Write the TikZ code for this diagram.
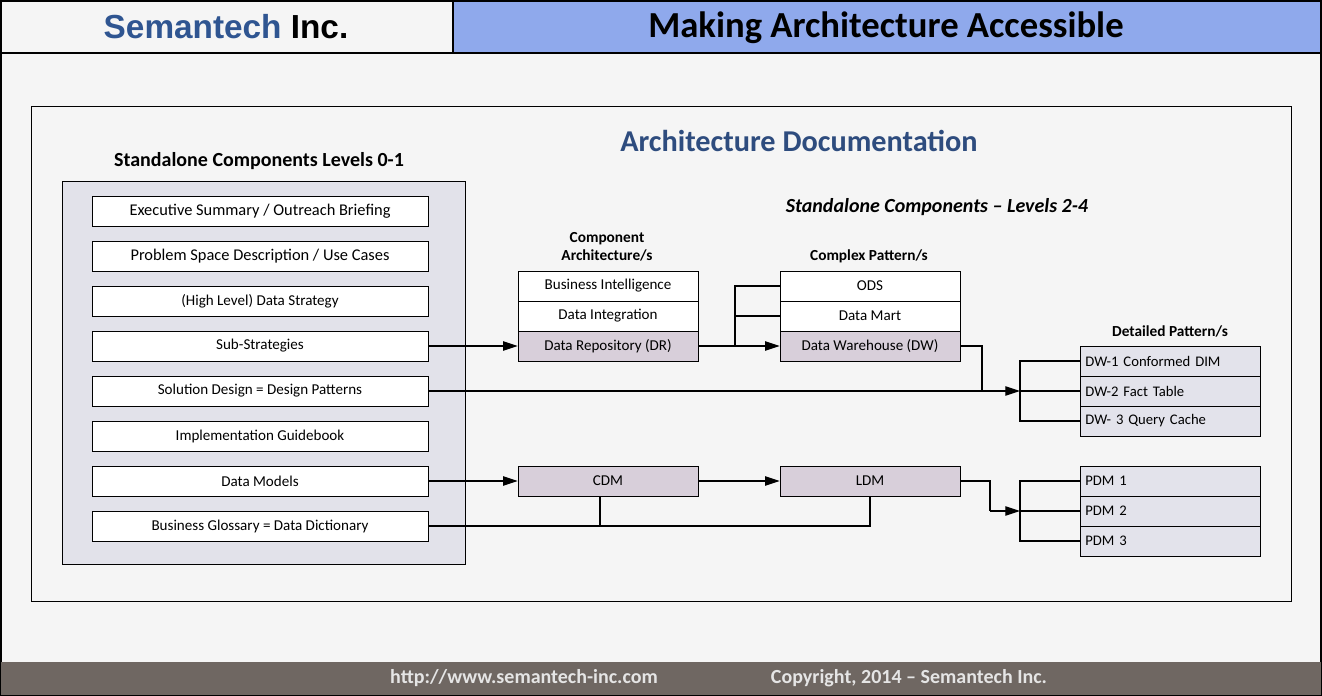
\documentclass[tikz,border=0pt]{standalone}
\usepackage{fontspec}
\setmainfont{Carlito}
\newfontfamily\arialf{Liberation Sans}
\usetikzlibrary{arrows.meta}
\definecolor{bgc}{HTML}{F5F5F5}
\definecolor{hdrblue}{HTML}{8FA9EC}
\definecolor{navy}{HTML}{2F5591}
\definecolor{ttl}{HTML}{2E4C7E}
\definecolor{foot}{HTML}{6F6762}
\definecolor{panel}{HTML}{E2E2EA}
\definecolor{shade}{HTML}{D8CFDA}
\definecolor{dpat}{HTML}{E3E3EB}
\tikzset{
 lbox/.style={draw,fill=white,minimum width=252pt,minimum height=22.5pt,inner sep=0pt,font=\fontsize{11.3}{13}\selectfont},
 sbox/.style={draw,fill=white,minimum width=135pt,minimum height=22.5pt,inner sep=0pt,font=\fontsize{11.3}{13}\selectfont},
 dbox/.style={draw,fill=dpat,minimum width=135pt,minimum height=22.5pt,inner sep=0pt,font=\fontsize{11}{13}\selectfont,text width=127pt,align=left},
 hd/.style={font=\bfseries\fontsize{11.5}{13.5}\selectfont,align=center},
 conn/.style={line width=0.8pt},
 arr/.style={line width=0.8pt,-{Triangle[length=11pt,width=7pt]}}
}
\begin{document}
\begin{tikzpicture}[x=0.75pt,y=-0.75pt]
\useasboundingbox (0,0) rectangle (1322,696);
\fill[bgc] (0,0) rectangle (1322,696);
\fill[hdrblue] (453,1) rectangle (1321,53);
\draw[line width=0.8pt] (1,1) rectangle (1321,695);
\draw[line width=0.8pt] (1,53) -- (1321,53) (453,1) -- (453,53);
\node[font=\arialf\bfseries\fontsize{25}{28}\selectfont] (brand) at (226,27) {\textcolor{navy}{Semantech} Inc.};
\node[font=\bfseries\fontsize{27.5}{30}\selectfont] (motto) at (886,28) {Making Architecture Accessible};
\fill[foot] (1,662) rectangle (1321,695);
\node[font=\bfseries\fontsize{15}{17}\selectfont,text=white!90!black] (url) at (524,678) {http://www.semantech-inc.com};
\node[font=\bfseries\fontsize{15}{17}\selectfont,text=white!90!black] (copy) at (909,678) {Copyright, 2014 – Semantech Inc.};
\draw[line width=0.6pt] (31,106) rectangle (1291,601);
\node[font=\bfseries\fontsize{22.7}{25}\selectfont,text=ttl] (title) at (799,141) {Architecture Documentation};
\node[font=\bfseries\fontsize{15}{17}\selectfont] (lvl01) at (259,161) {Standalone Components Levels 0-1};
\draw[fill=panel,line width=0.6pt] (62,181) rectangle (465,564);
\node[lbox,font=\fontsize{12.3}{14}\selectfont] (l1) at (260,211) {Executive Summary / Outreach Briefing};
\node[lbox,font=\fontsize{12.3}{14}\selectfont] (l2) at (260,256) {Problem Space Description / Use Cases};
\node[lbox] (l3) at (260,301) {(High Level) Data Strategy};
\node[lbox] (l4) at (260,346) {Sub-Strategies};
\node[lbox] (l5) at (260,391) {Solution Design = Design Patterns};
\node[lbox] (l6) at (260,436) {Implementation Guidebook};
\node[lbox] (l7) at (260,481) {Data Models};
\node[lbox] (l8) at (260,526) {Business Glossary = Data Dictionary};
\node[font=\bfseries\itshape\fontsize{15}{17}\selectfont] (lvl24) at (937,207) {Standalone Components – Levels 2-4};
\node[hd] (cah) at (607,247) {Component\\Architecture/s};
\node[hd] (cph) at (869,256) {Complex Pattern/s};
\node[hd] (dph) at (1170,331) {Detailed Pattern/s};
\node[sbox] (bi) at (608,286) {Business Intelligence};
\node[sbox] (di) at (608,316) {Data Integration};
\node[sbox,fill=shade] (dr) at (608,346) {Data Repository (DR)};
\node[sbox] (ods) at (870,286) {ODS};
\node[sbox] (dm) at (870,316) {Data Mart};
\node[sbox,fill=shade] (dw) at (870,346) {Data Warehouse (DW)};
\node[dbox] (d1) at (1170,361) {DW-1 Conformed DIM};
\node[dbox] (d2) at (1170,391) {DW-2 Fact Table};
\node[dbox] (d3) at (1170,421) {DW- 3 Query Cache};
\node[sbox,fill=shade] (cdm) at (608,481) {CDM};
\node[sbox,fill=shade] (ldm) at (870,481) {LDM};
\node[dbox] (p1) at (1170,481) {PDM 1};
\node[dbox] (p2) at (1170,511) {PDM 2};
\node[dbox] (p3) at (1170,541) {PDM 3};
\coordinate (dj) at (1020,391);
\coordinate (pj) at (1020,511);
% connectors
\draw[arr] (l4.east) -- (dr.west);
\draw[arr] (dr.east) -- (dw.west);
\draw[conn] (ods.west) -| (735,346);
\draw[conn] (dm.west) -- (735,316);
\draw[conn] (dw.east) -| (982,391);
\draw[arr] (l5.east) -- (dj);
\draw[conn] (d1.west) -| (dj) |- (d3.west);
\draw[conn] (dj) -- (d2.west);
\draw[arr] (l7.east) -- (cdm.west);
\draw[arr] (cdm.east) -- (ldm.west);
\draw[conn] (l8.east) -| (ldm.south);
\draw[conn] (cdm.south -| 600,0) -- (600,526);
\draw[conn] (ldm.east) -| (990,511);
\draw[arr] (990,511) -- (pj);
\draw[conn] (p1.west) -| (pj) |- (p3.west);
\draw[conn] (pj) -- (p2.west);
\end{tikzpicture}
\end{document}
